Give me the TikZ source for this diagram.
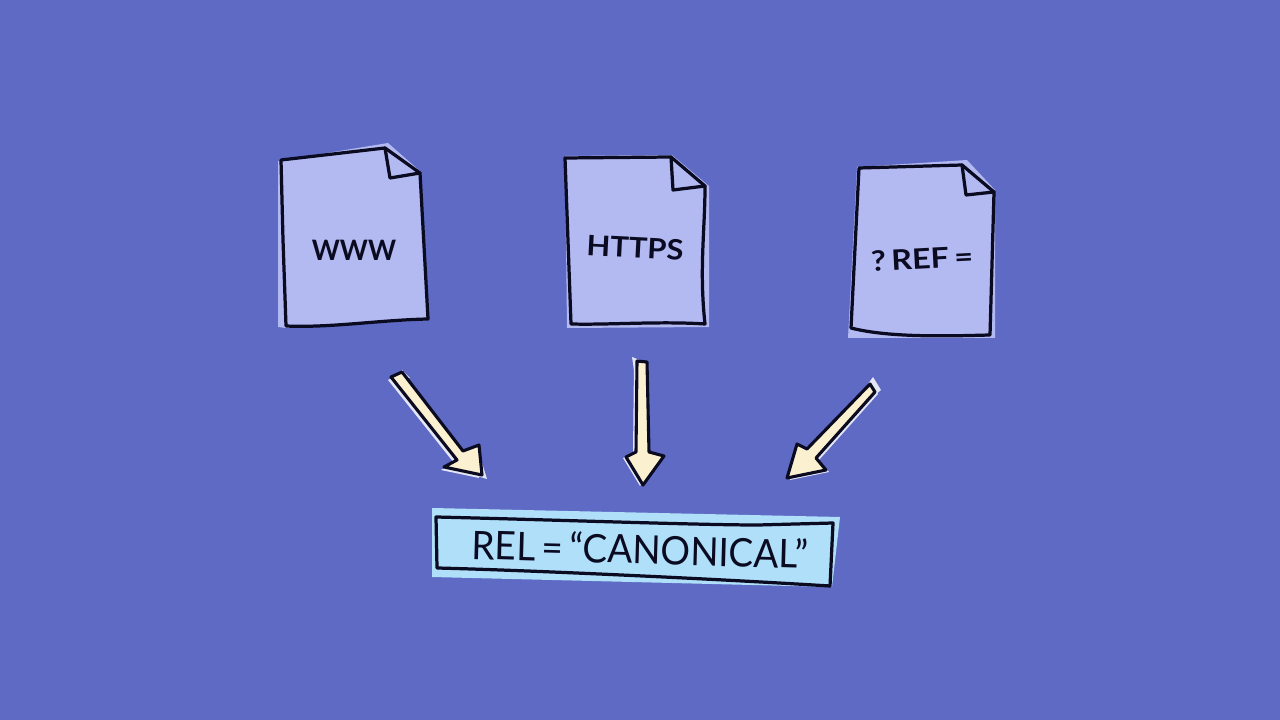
\documentclass[tikz,border=0pt]{standalone}
\usepackage{fontspec}
\setmainfont{Lato}
\definecolor{wall}{HTML}{5E6AC4}
\definecolor{paper}{HTML}{B3BAF2}
\definecolor{strip}{HTML}{B0DFFA}
\definecolor{cream}{HTML}{FBF0CF}
\definecolor{glint}{HTML}{E4E6F6}
\definecolor{ink}{HTML}{0A0A20}
\tikzset{
	sheet/.style={fill=paper},
	outline/.style={draw=ink,line width=2.3pt},
	pointer/.style={draw=ink,line width=2.2pt,fill=cream},
	scrawl/.style={text=ink,inner sep=0pt,font=\bfseries\fontsize{20}{20}\selectfont},
}
\begin{document}
\begin{tikzpicture}[x=0.025cm,y=-0.025cm,line join=round,line cap=round]
	\fill[wall] (0,0) rectangle (1280,720);
	% left sheet
	\fill[sheet] (278,161)--(388,143)--(421,172)--(429,320)--(286,328)--(278,327)--cycle;
	\draw[outline] (281,160)--(385,148)--(420,173)--(428,319) .. controls (380,320) and (330,328) .. (286,326)--(283,240)--cycle;
	\draw[outline] (385,148)--(390,178)--(420,173);
	\node[scrawl,xscale=0.95] (www) at (354,250) {WWW};
	% middle sheet
	\fill[sheet] (565,156)--(672,155)--(709,186)--(709,327)--(567,328)--cycle;
	\draw[outline] (565,158)--(671,157)--(705,186) .. controls (705,230) and (699,270) .. (705,324) .. controls (660,321) and (610,325) .. (571,324)--cycle;
	\draw[outline] (671,157)--(673,190)--(705,186);
	\node[scrawl,rotate=-3,xscale=1.1] (https) at (635,248) {HTTPS};
	% right sheet
	\fill[sheet] (857,167)--(967,160)--(995,190)--(995,338)--(848,338)--cycle;
	\draw[outline] (859,168)--(962,165)--(994,192)--(990,335) .. controls (950,336) and (890,338) .. (851,328)--cycle;
	\draw[outline] (962,165)--(966,195)--(994,192);
	\node[scrawl,rotate=3,xscale=1.15] (ref) at (922,259) {?\,REF\,=};
	% arrows
	\fill[glint,shift={(-3,3)}] (391,377)--(402,372)--(463,451)--(479,445)--(482,475)--(444,467)--(457,460)--cycle;
	\fill[glint] (402,370)--(410,378)--(400,378)--cycle (478,450)--(487,479)--(470,474)--cycle;
	\draw[pointer] (391,377)--(402,372)--(463,451)--(479,445)--(482,475)--(444,467)--(457,460)--cycle;
	\fill[glint,shift={(-3,1)}] (637,361)--(647,362)--(649,452)--(664,456)--(643,485)--(626,457)--(636,452)--cycle;
	\fill[glint] (632,357)--(642,361)--(640,370)--(634,370)--cycle;
	\draw[pointer] (637,361)--(647,362)--(649,452)--(664,456)--(643,485)--(626,457)--(636,452)--cycle;
	\fill[glint,shift={(3,2)}] (870,384)--(875,392)--(816,458)--(826,470)--(787,478)--(797,444)--(807,449)--cycle;
	\fill[glint] (873,377)--(881,390)--(875,395)--(868,384)--cycle;
	\draw[pointer] (870,384)--(875,392)--(816,458)--(826,470)--(787,478)--(797,444)--(807,449)--cycle;
	% canonical strip
	\fill[strip] (432,508)--(840,517)--(832,587)--(432,577)--cycle;
	\draw[outline] (436,517) .. controls (560,520) and (700,525) .. (758,525)--(833,523)--(830,586) .. controls (700,578) and (520,570) .. (437,568)--cycle;
	\node[scrawl,rotate=-1.6,xscale=0.94,font=\fontsize{28}{28}\selectfont] (rel) at (640,549) {REL\,=\,“CANONICAL”};
\end{tikzpicture}
\end{document}
